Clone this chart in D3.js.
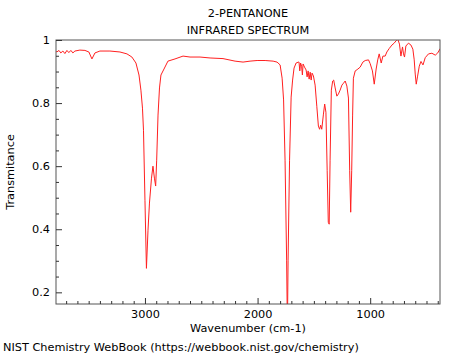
<!DOCTYPE html>
<html>
<head>
<meta charset="utf-8">
<script src="https://cdn.jsdelivr.net/npm/d3@7"></script>
<style>
  html, body { margin: 0; padding: 0; background: #fff; }
  svg { display: block; font-family: "DejaVu Sans", sans-serif; }
</style>
</head>
<body>
<svg id="chart" width="474" height="355"></svg>
<script>
const titleLines = ["2-PENTANONE", "INFRARED SPECTRUM"];
const xLabel = "Wavenumber (cm-1)";
const yLabel = "Transmitance";
const footer = "NIST Chemistry WebBook (https://webbook.nist.gov/chemistry)";

const xTicks = [3000, 2000, 1000];
const yTicks = [0.2, 0.4, 0.6, 0.8, 1];
const yTickLabels = ["0.2", "0.4", "0.6", "0.8", "1"];

const wavenumber = [
  3791, 3782, 3764, 3747, 3729, 3711, 3693, 3676, 3658, 3640, 3622, 3578, 3533, 3498, 3471, 3444,
  3400, 3311, 3222, 3160, 3116, 3080, 3053, 3036, 3022, 3013, 3000, 2987, 2973, 2960, 2942, 2929,
  2916, 2905, 2896, 2884, 2871, 2858, 2831, 2796, 2733, 2662, 2600, 2511, 2422, 2307, 2200, 2129,
  2067, 2004, 1933, 1862, 1827, 1800, 1782, 1769, 1756, 1742, 1735, 1729, 1716, 1702, 1689, 1676,
  1658, 1637, 1632, 1625, 1618, 1609, 1602, 1596, 1583, 1569, 1560, 1551, 1542, 1533, 1524, 1516,
  1504, 1489, 1474, 1460, 1449, 1440, 1430, 1415, 1404, 1393, 1382, 1372, 1364, 1356, 1345, 1333,
  1324, 1311, 1296, 1282, 1267, 1251, 1237, 1222, 1207, 1193, 1182, 1173, 1164, 1156, 1149, 1133,
  1116, 1089, 1065, 1044, 1015, 1000, 980, 964, 947, 933, 920, 902, 887, 867, 852, 831,
  807, 787, 769, 754, 740, 727, 713, 704, 695, 683, 660, 638, 621, 609, 600, 591,
  580, 564, 549, 531, 511, 482, 452, 422, 400, 378
];
const transmittance = [
  0.965, 0.962, 0.967, 0.959, 0.965, 0.957, 0.967, 0.960, 0.967, 0.959, 0.965, 0.968, 0.967, 0.962, 0.940, 0.959,
  0.965, 0.965, 0.962, 0.956, 0.946, 0.927, 0.889, 0.841, 0.784, 0.714, 0.492, 0.276, 0.397, 0.483, 0.562, 0.600,
  0.562, 0.537, 0.619, 0.762, 0.848, 0.889, 0.908, 0.933, 0.940, 0.949, 0.946, 0.946, 0.943, 0.941, 0.933, 0.930,
  0.933, 0.935, 0.935, 0.933, 0.930, 0.921, 0.879, 0.810, 0.619, 0.302, 0.080, 0.302, 0.619, 0.819, 0.873, 0.911,
  0.927, 0.930, 0.930, 0.902, 0.927, 0.917, 0.889, 0.924, 0.914, 0.905, 0.883, 0.902, 0.876, 0.898, 0.873, 0.895,
  0.886, 0.857, 0.790, 0.727, 0.717, 0.730, 0.717, 0.765, 0.797, 0.771, 0.587, 0.422, 0.416, 0.619, 0.841, 0.870,
  0.873, 0.848, 0.822, 0.829, 0.841, 0.857, 0.863, 0.870, 0.854, 0.816, 0.587, 0.454, 0.587, 0.762, 0.879, 0.902,
  0.906, 0.914, 0.930, 0.935, 0.937, 0.925, 0.902, 0.860, 0.908, 0.937, 0.956, 0.927, 0.949, 0.949, 0.962, 0.973,
  0.984, 0.990, 0.998, 1.002, 0.987, 0.949, 0.978, 0.956, 0.946, 0.981, 0.990, 0.984, 0.971, 0.937, 0.892, 0.860,
  0.883, 0.917, 0.932, 0.921, 0.944, 0.956, 0.958, 0.952, 0.959, 0.973
];

const svg = d3.select("#chart");
const margin = { left: 56, right: 34, top: 40, bottom: 51 };
const W = 474, H = 355;
const x0 = margin.left, x1 = W - margin.right, y0 = margin.top, y1 = H - margin.bottom;

const x = d3.scaleLinear().domain([3790, 380]).range([x0, x1]);
const y = d3.scaleLinear().domain([0.163, 1.0]).range([y1, y0]);

const data = wavenumber.map((w, i) => ({ w, t: transmittance[i] }));

svg.append("clipPath").attr("id", "clip")
  .append("rect").attr("x", x0).attr("y", y0).attr("width", x1 - x0).attr("height", y1 - y0);

// Spectrum line
const line = d3.line().x(d => x(d.w)).y(d => y(d.t));
svg.append("path")
  .datum(data)
  .attr("clip-path", "url(#clip)")
  .attr("fill", "none")
  .attr("stroke", "#ff2020")
  .attr("stroke-width", 1)
  .attr("stroke-linejoin", "round")
  .attr("d", line);

// Frame
svg.append("rect")
  .attr("x", x0).attr("y", y0).attr("width", x1 - x0).attr("height", y1 - y0)
  .attr("fill", "none").attr("stroke", "#555").attr("stroke-width", 1);

// Minor ticks
const xMinor = d3.range(400, 3800, 100).filter(v => v <= 3790 && v >= 380 && v % 1000 !== 0);
const xAxisMinor = d3.axisBottom(x).tickValues(xMinor).tickSize(-3).tickFormat("");
const gxm = svg.append("g").attr("transform", `translate(0,${y1})`).call(xAxisMinor);
gxm.select(".domain").remove();
gxm.selectAll("line").attr("stroke", "#333");

const yMinor = d3.range(0.25, 1.0, 0.05).map(v => +v.toFixed(2)).filter(v => Math.abs(v * 5 - Math.round(v * 5)) > 1e-6);
const yAxisMinor = d3.axisLeft(y).tickValues(yMinor).tickSize(-3).tickFormat("");
const gym = svg.append("g").attr("transform", `translate(${x0},0)`).call(yAxisMinor);
gym.select(".domain").remove();
gym.selectAll("line").attr("stroke", "#333");

// Major ticks
const xAxis = d3.axisBottom(x).tickValues(xTicks).tickSize(-6).tickPadding(6).tickFormat(d3.format("d"));
const gx = svg.append("g").attr("transform", `translate(0,${y1})`).call(xAxis);
gx.select(".domain").remove();
gx.selectAll("line").attr("stroke", "#333");
gx.selectAll("text").attr("font-size", 11.3).attr("font-family", "DejaVu Sans").attr("fill", "#000");

const yAxis = d3.axisLeft(y).tickValues(yTicks).tickSize(-6).tickPadding(6)
  .tickFormat((d, i) => yTickLabels[i]);
const gy = svg.append("g").attr("transform", `translate(${x0},0)`).call(yAxis);
gy.select(".domain").remove();
gy.selectAll("line").attr("stroke", "#333");
gy.selectAll("text").attr("font-size", 11.3).attr("font-family", "DejaVu Sans").attr("fill", "#000");

// Titles
const cx = (x0 + x1) / 2;
svg.append("text").attr("x", cx).attr("y", 17).attr("text-anchor", "middle")
  .attr("font-size", 11.3).text(titleLines[0]);
svg.append("text").attr("x", cx).attr("y", 34).attr("text-anchor", "middle")
  .attr("font-size", 11.3).text(titleLines[1]);

// Axis labels
svg.append("text").attr("x", cx).attr("y", 331.5).attr("text-anchor", "middle")
  .attr("font-size", 11.3).text(xLabel);
svg.append("text")
  .attr("transform", `translate(14,${(y0 + y1) / 2}) rotate(-90)`)
  .attr("text-anchor", "middle").attr("font-size", 11.3).text(yLabel);

// Footer
svg.append("text").attr("x", 3).attr("y", 351).attr("font-size", 11.3).text(footer);
</script>
</body>
</html>
